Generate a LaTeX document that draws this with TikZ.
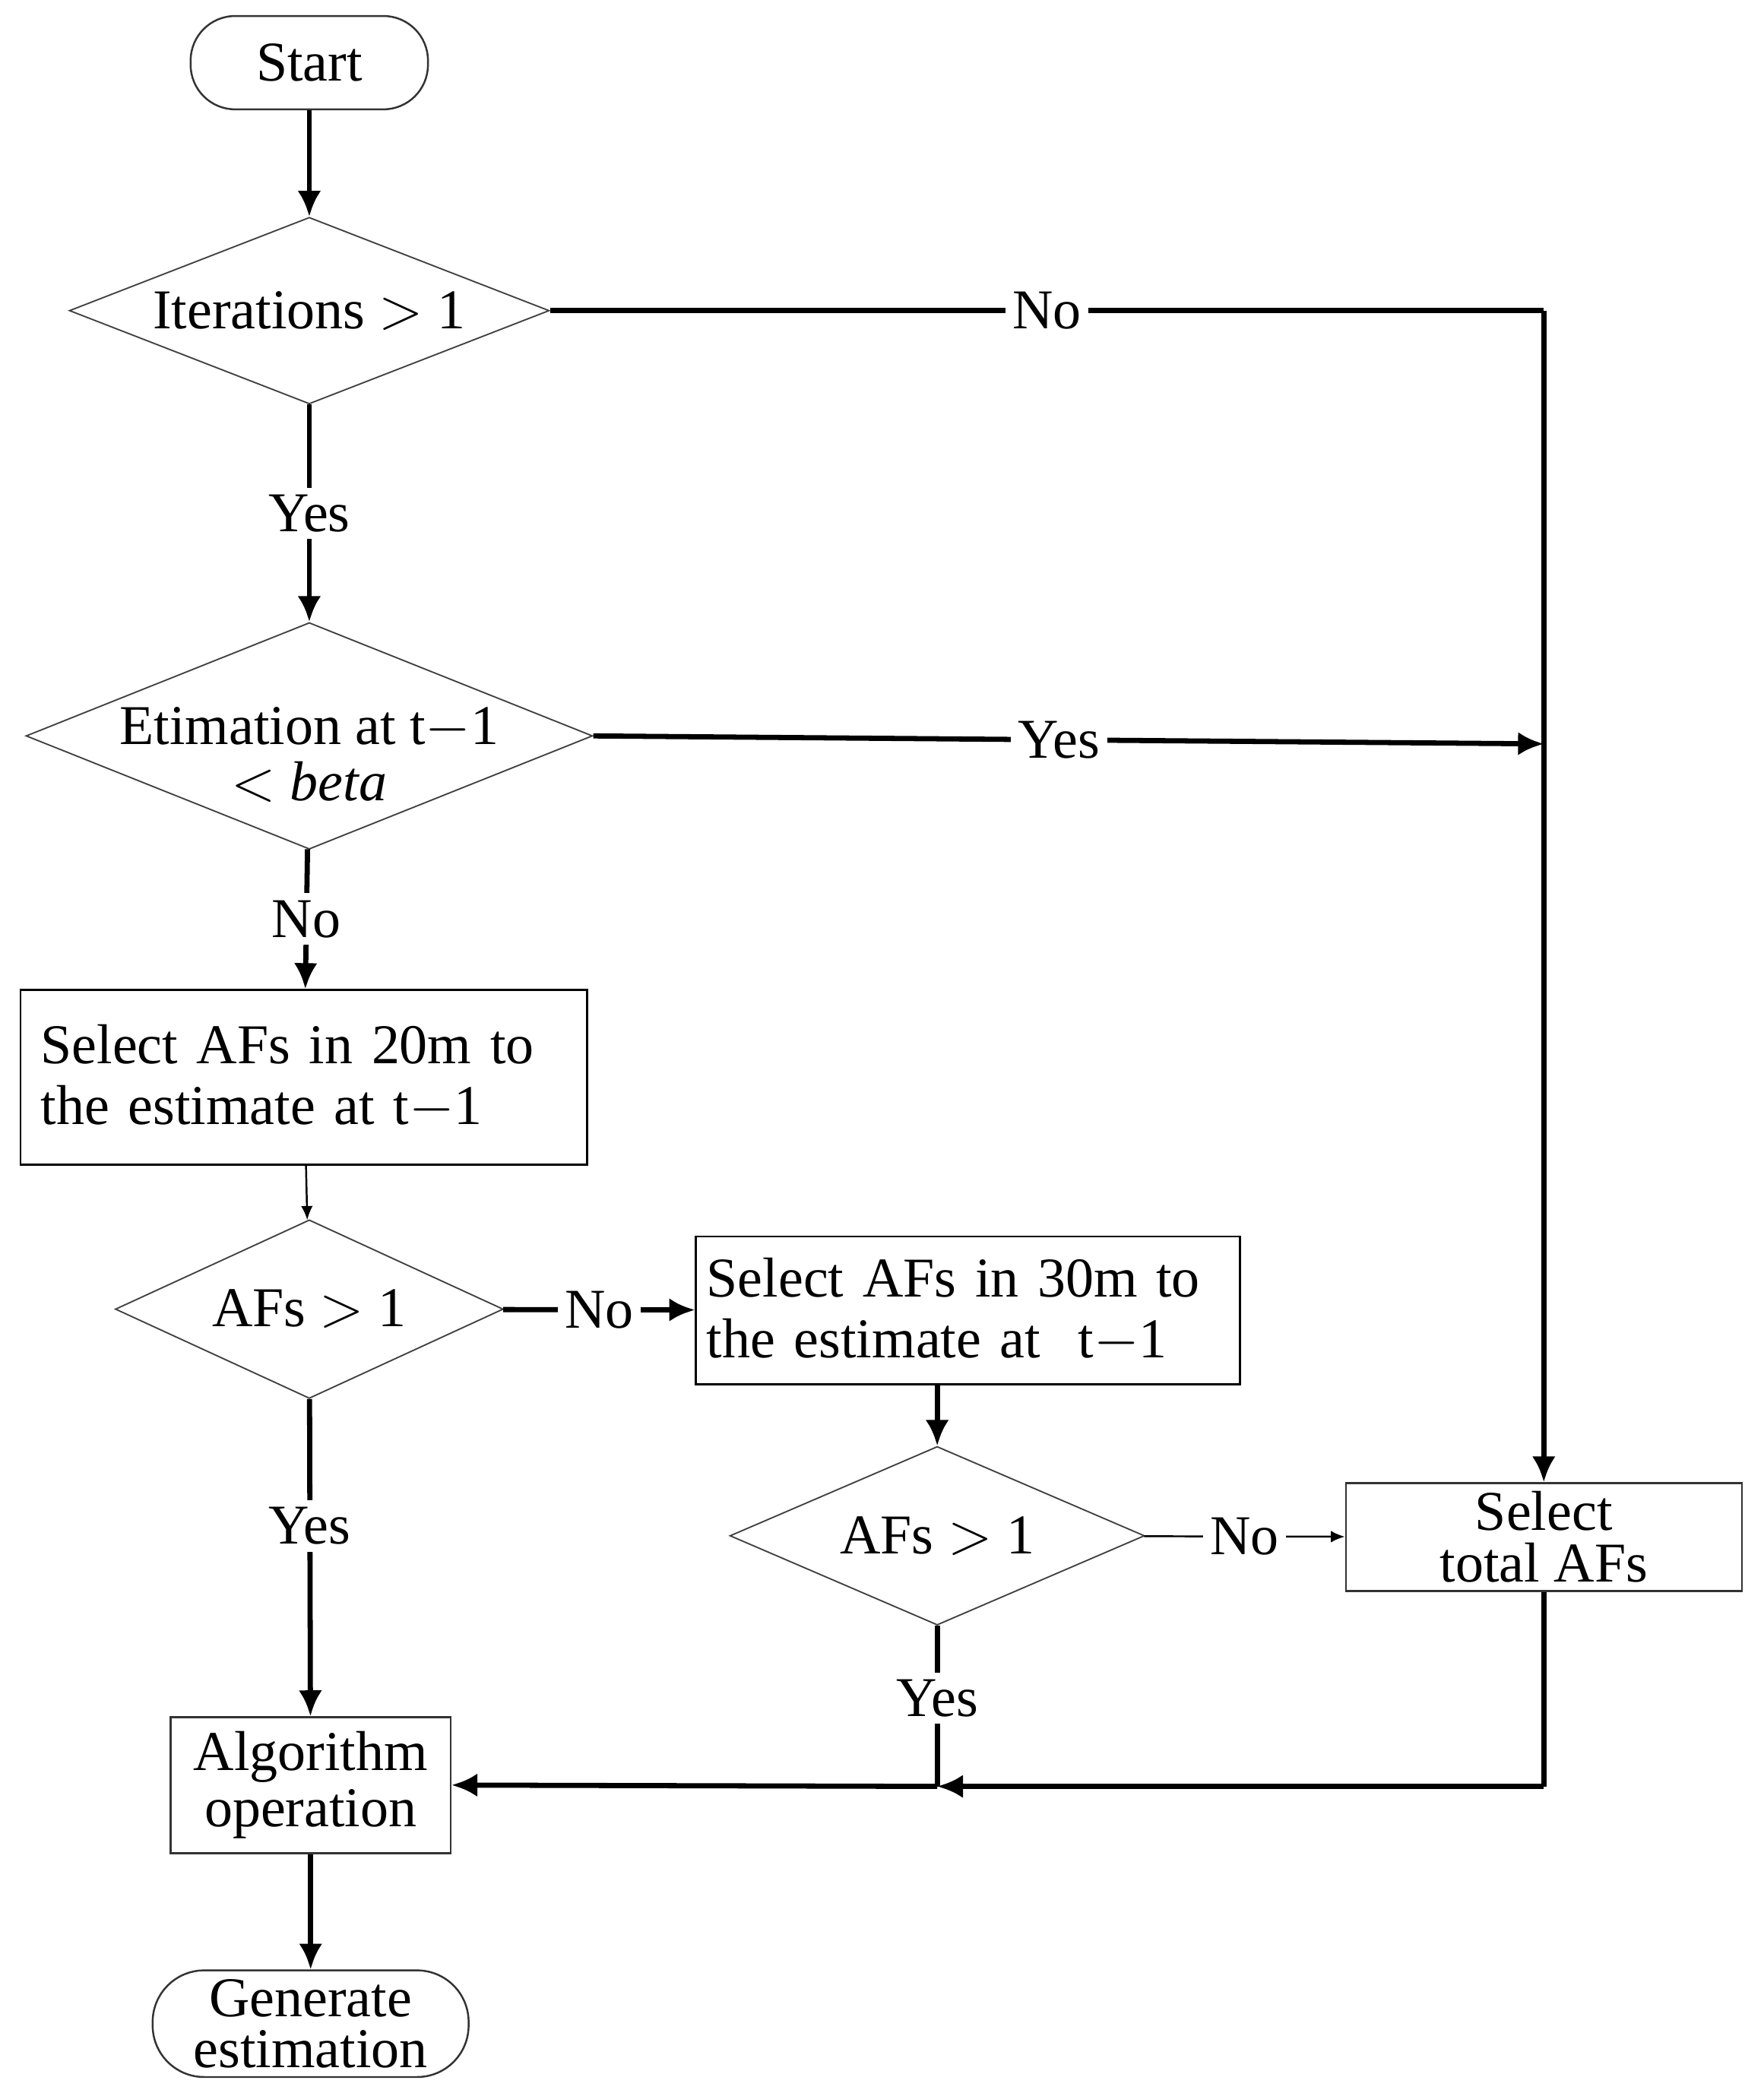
\documentclass[tikz,border=0pt]{standalone}
\usepackage{fontspec}
\setmainfont{Liberation Serif}
\usetikzlibrary{shapes.geometric,arrows.meta}
\begin{document}
\begin{tikzpicture}[x=0.02cm,y=-0.02cm,
  every node/.style={font=\fontsize{24}{26}\selectfont},
  dia/.style={draw=black!75,line width=0.6pt,diamond,inner sep=0pt},
  box/.style={draw=black,line width=0.8pt,inner sep=0pt,align=left},
  term/.style={draw=black!80,line width=0.8pt,inner sep=0pt,align=center},
  arr/.style={line width=2.2pt,-{Latex[length=11pt,width=10pt]}},
  ln/.style={line width=2.2pt},
  thin/.style={line width=0.8pt,-{Latex[length=6pt,width=5pt]}},
  lab/.style={fill=white,inner sep=3pt}]
\useasboundingbox (0,0) rectangle (1323,1570);
\node[term,rounded corners=19pt,minimum width=178*0.02cm,minimum height=70*0.02cm] (start) at (232,47) {Start};
\node[dia,minimum width=360*0.02cm,minimum height=140*0.02cm,label={center:Iterations $>$ 1}] (d1) at (232,233) {};
\node[dia,minimum width=425*0.02cm,minimum height=170*0.02cm,label={[align=center,yshift=-8pt]center:Etimation at t$-$1\\[-2pt]$<$ \textit{beta}}] (d2) at (232,552) {};
\node[box,minimum width=425*0.02cm,minimum height=131*0.02cm,text width=395*0.02cm] (b1) at (228,808) {Select AFs in 20m to\\the estimate at t$-$1};
\node[dia,minimum width=291*0.02cm,minimum height=134*0.02cm,label={center:AFs $>$ 1}] (d3) at (232,982) {};
\node[box,minimum width=408*0.02cm,minimum height=111*0.02cm,text width=392*0.02cm] (b2) at (726,983) {Select AFs in 30m to\\the estimate at \ t$-$1};
\node[dia,minimum width=311*0.02cm,minimum height=134*0.02cm,label={center:AFs $>$ 1}] (d4) at (703,1152) {};
\node[box,draw=black!80,minimum width=297*0.02cm,minimum height=81*0.02cm,align=center] (b3) at (1158,1153) {Select\\[-4pt]total AFs};
\node[box,draw=black!80,minimum width=210*0.02cm,minimum height=102*0.02cm,align=center] (b4) at (233,1339) {Algorithm\\[-2pt]operation};
\node[term,rounded corners=22pt,minimum width=237*0.02cm,minimum height=80*0.02cm] (gen) at (233,1518) {Generate\\[-4pt]estimation};
\coordinate (c1) at (1158,233);
\coordinate (c2) at (1158,558);
\coordinate (c3) at (703,1340);
\coordinate (c4) at (1158,1340);
\draw[arr] (start) -- (d1);
\draw[arr] (d1) -- node[lab]{Yes} (d2);
\draw[arr] (d2) -- node[lab]{No} (b1);
\draw[thin] (b1) -- (d3);
\draw[arr] (d3) -- node[lab]{No} (b2);
\draw[arr] (b2.south -| d4) -- (d4);
\draw[thin] (d4) -- node[lab]{No} (b3);
\draw[ln] (d1.east) -- node[lab,pos=0.5]{No} (c1);
\draw[arr] (c1) -- (b3);
\draw[arr] (d2.east) -- node[lab,pos=0.49]{Yes} (c2);
\draw[arr] (d3) -- node[lab,pos=0.4]{Yes} (b4);
\draw[ln] (d4) -- node[lab,pos=0.45]{Yes} (c3);
\draw[arr] (c3) -- (b4.east);
\draw[ln] (b3.south -| c4) -- (c4);
\draw[arr] (c4) -- (c3);
\draw[arr] (b4) -- (gen);
\end{tikzpicture}
\end{document}
